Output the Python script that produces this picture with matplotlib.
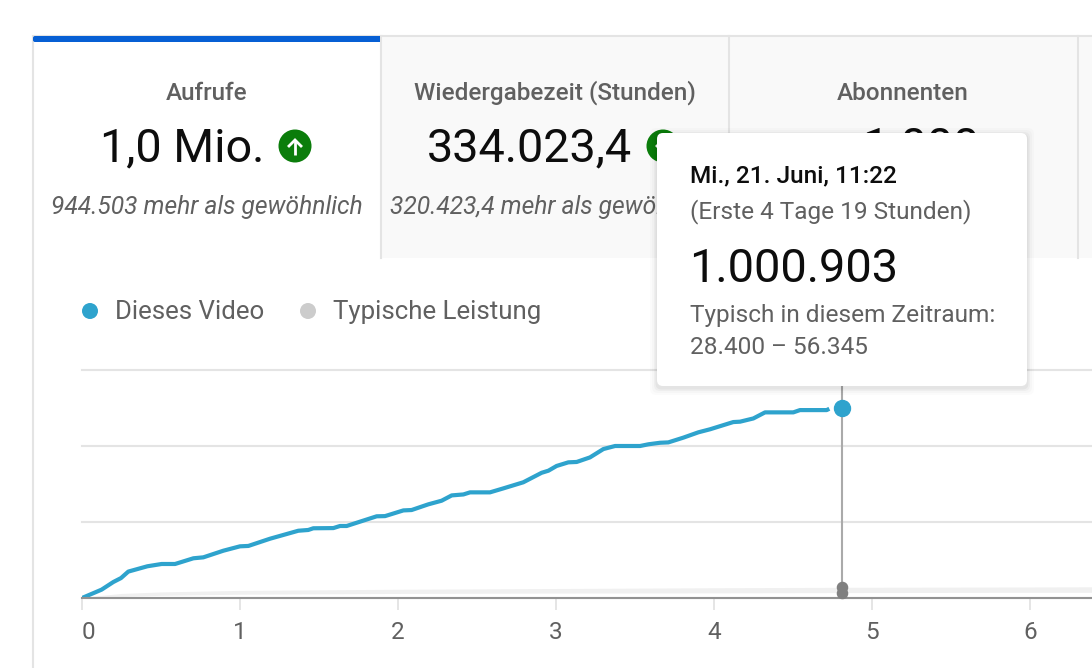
import matplotlib.pyplot as plt
from matplotlib.patches import Circle, FancyBboxPatch, Rectangle

plt.rcParams['font.family'] = ['Roboto', 'DejaVu Sans']

# views over time (days, thousands of views)
days = [0, 0.124, 0.198, 0.247, 0.293, 0.414, 0.504, 0.589, 0.705, 0.768, 0.895, 1.0, 1.053, 1.19,
        1.369, 1.432, 1.464, 1.591, 1.633, 1.675, 1.865, 1.918, 2.034, 2.086, 2.192, 2.276, 2.34,
        2.414, 2.456, 2.582, 2.667, 2.793, 2.909, 2.952, 3.004, 3.078, 3.131, 3.215, 3.3, 3.374,
        3.532, 3.585, 3.658, 3.711, 3.806, 3.901, 3.975, 4.122, 4.165, 4.249, 4.323, 4.502, 4.544,
        4.713, 4.73]
views = [0, 44, 84, 105, 139, 167, 179, 179, 209, 214, 249, 272, 274, 312,
         354, 358, 367, 368, 379, 379, 430, 431, 461, 463, 493, 512, 540,
         545, 556, 556, 577, 609, 659, 670, 695, 714, 716, 740, 784, 800,
         800, 809, 817, 819, 844, 872, 888, 926, 928, 945, 977, 977, 989,
         989, 996]

# typical range band
band_days = [0, 0.1, 0.25, 0.5, 1, 2, 3, 4, 4.81, 6, 6.4]
band_low = [0, 3, 8, 14, 20, 24, 26, 27, 28.4, 30, 30]
band_high = [0, 12, 24, 32, 40, 46, 50, 54, 56.3, 58, 59]

hover_day = 4.81
hover_views = 1000.903
hover_low = 28.4
hover_high = 56.345

x_ticks = [0, 1, 2, 3, 4, 5, 6]
y_grid = [0, 400, 800, 1200]

BLUE = '#2ea3cd'
GRAY = '#606060'
DARK = '#0d0d0d'
LINE = '#e4e4e4'
GREEN = '#0b7d0b'

fig = plt.figure(figsize=(10.92, 6.68), dpi=100, facecolor='white')

# plot area: px 82..1092 wide, px 370..598 high
ax = fig.add_axes([82 / 1092, (668 - 598) / 668, 1010 / 1092, 228 / 668], zorder=1)
ax.set_xlim(0, 1010 / 158)
ax.set_ylim(0, 1200)

ax.fill_between(band_days, band_low, band_high, color='#f0f0f0', lw=0, zorder=2)
ax.plot(days, views, color=BLUE, lw=3, solid_capstyle='butt', solid_joinstyle='round', zorder=3)
ax.axvline(hover_day, color='#aaaaaa', lw=1.5, zorder=4)
ax.plot([hover_day, hover_day], [hover_low, hover_high], color='#808080', lw=0, marker='o', ms=7.3,
        zorder=5, clip_on=False)
ax.plot([hover_day], [hover_views], color=BLUE, marker='o', ms=11.5, lw=0, zorder=5)

ax.set_yticks(y_grid)
ax.set_yticklabels([])
ax.set_xticks(x_ticks)
ax.set_xticklabels([str(t) for t in x_ticks], fontsize=17.5, color=GRAY)
ax.get_xticklabels()[0].set_ha('left')
ax.tick_params(axis='y', length=0)
ax.tick_params(axis='x', length=8.5, width=1.2, color='#e0e0e0', pad=8)
ax.grid(axis='y', color=LINE, lw=1.5, zorder=1)
for gl in ax.get_ygridlines():
    gl.set_clip_on(False)
ax.set_axisbelow(True)
for side in ['top', 'left', 'right']:
    ax.spines[side].set_visible(False)
ax.spines['bottom'].set_color('#929292')
ax.spines['bottom'].set_linewidth(1.5)
ax.spines['bottom'].set_zorder(4)

# page furniture in pixel coordinates, on top of the plot
ui = fig.add_axes([0, 0, 1, 1], zorder=10)
ui.set_xlim(0, 1092)
ui.set_ylim(668, 0)
ui.axis('off')
ui.patch.set_alpha(0)

for x0, x1 in [(381, 729), (729, 1078), (1078, 1092)]:
    ui.add_patch(Rectangle((x0, 36), x1 - x0, 222, fc='#f9f9f9', ec='none', zorder=1))
ui.plot([33, 1092], [35.5, 35.5], color=LINE, lw=1.5, zorder=2)
ui.plot([33, 33], [38, 668], color=LINE, lw=1.5, zorder=2)
for x in [381, 729, 1078]:
    ui.plot([x, x], [36, 258], color=LINE, lw=1.5, zorder=2)
# active tab bar, only the left corner is rounded
ui.add_patch(FancyBboxPatch((35, 38), 100, 2, boxstyle='round,pad=2,rounding_size=2', fc='#065fd4',
                            ec='none', zorder=3))
ui.add_patch(Rectangle((60, 36), 320, 6, fc='#065fd4', ec='none', zorder=3))


def card(xc, title, value, value_x, badge_x, note, note_x):
    ui.text(xc, 100, title, ha='center', va='baseline', fontsize=17.5, weight='medium', color=GRAY, zorder=4)
    ui.text(value_x, 161, value, ha='left', va='baseline', fontsize=33.7, color=DARK, zorder=4)
    if badge_x:
        ui.add_patch(Circle((badge_x, 146), 16.5, fc=GREEN, ec='none', zorder=4))
        ui.plot([badge_x, badge_x], [140, 155], color='white', lw=2, zorder=5, solid_capstyle='butt')
        ui.plot([badge_x - 6, badge_x, badge_x + 6], [146, 140, 146], color='white', lw=2, zorder=5,
                solid_joinstyle='miter')
    if note:
        ui.text(note_x, 214, note, ha='left', va='baseline', fontsize=17.7, style='italic', color=GRAY, zorder=4)


card(207, 'Aufrufe', '1,0 Mio.', 100, 295, '944.503 mehr als gewöhnlich', 51)
card(555, 'Wiedergabezeit (Stunden)', '334.023,4', 427, 663, '320.423,4 mehr als gewöhnlich', 390)
card(903, 'Abonnenten', '1.000', 862, None, None, None)

# legend
ui.add_patch(Circle((90, 311), 8, fc=BLUE, ec='none'))
ui.text(115, 319, 'Dieses Video', ha='left', va='baseline', fontsize=18.6, color=GRAY)
ui.add_patch(Circle((308, 311), 8, fc='#cccccc', ec='none'))
ui.text(333, 319, 'Typische Leistung', ha='left', va='baseline', fontsize=18.6, color=GRAY)

# tooltip with soft shadow
for grow, alpha in [(7, 0.015), (5, 0.02), (3, 0.03), (1.5, 0.04)]:
    ui.add_patch(FancyBboxPatch((662 - grow, 138 + 2 - grow), 360 + 2 * grow, 243 + 2 * grow,
                                boxstyle='round,pad=5,rounding_size=6', fc='black', ec='none', alpha=alpha, zorder=20))
ui.add_patch(FancyBboxPatch((662, 138), 360, 243, boxstyle='round,pad=5,rounding_size=6', fc='white',
                            ec='none', zorder=21))
ui.text(689.5, 182, 'Mi., 21. Juni, 11:22', ha='left', va='baseline', fontsize=17.6, weight='medium', color=DARK, zorder=22)
ui.text(689.5, 218, '(Erste 4 Tage 19 Stunden)', ha='left', va='baseline', fontsize=17.6, color=GRAY, zorder=22)
ui.text(689, 281.5, '1.000.903', ha='left', va='baseline', fontsize=33.8, color=DARK, zorder=22)
ui.text(689.5, 322, 'Typisch in diesem Zeitraum:', ha='left', va='baseline', fontsize=17.6, color=GRAY, zorder=22)
ui.text(689.5, 354, '28.400 – 56.345', ha='left', va='baseline', fontsize=17.6, color=GRAY, zorder=22)

fig.savefig('out.png', dpi=100, facecolor='white')
